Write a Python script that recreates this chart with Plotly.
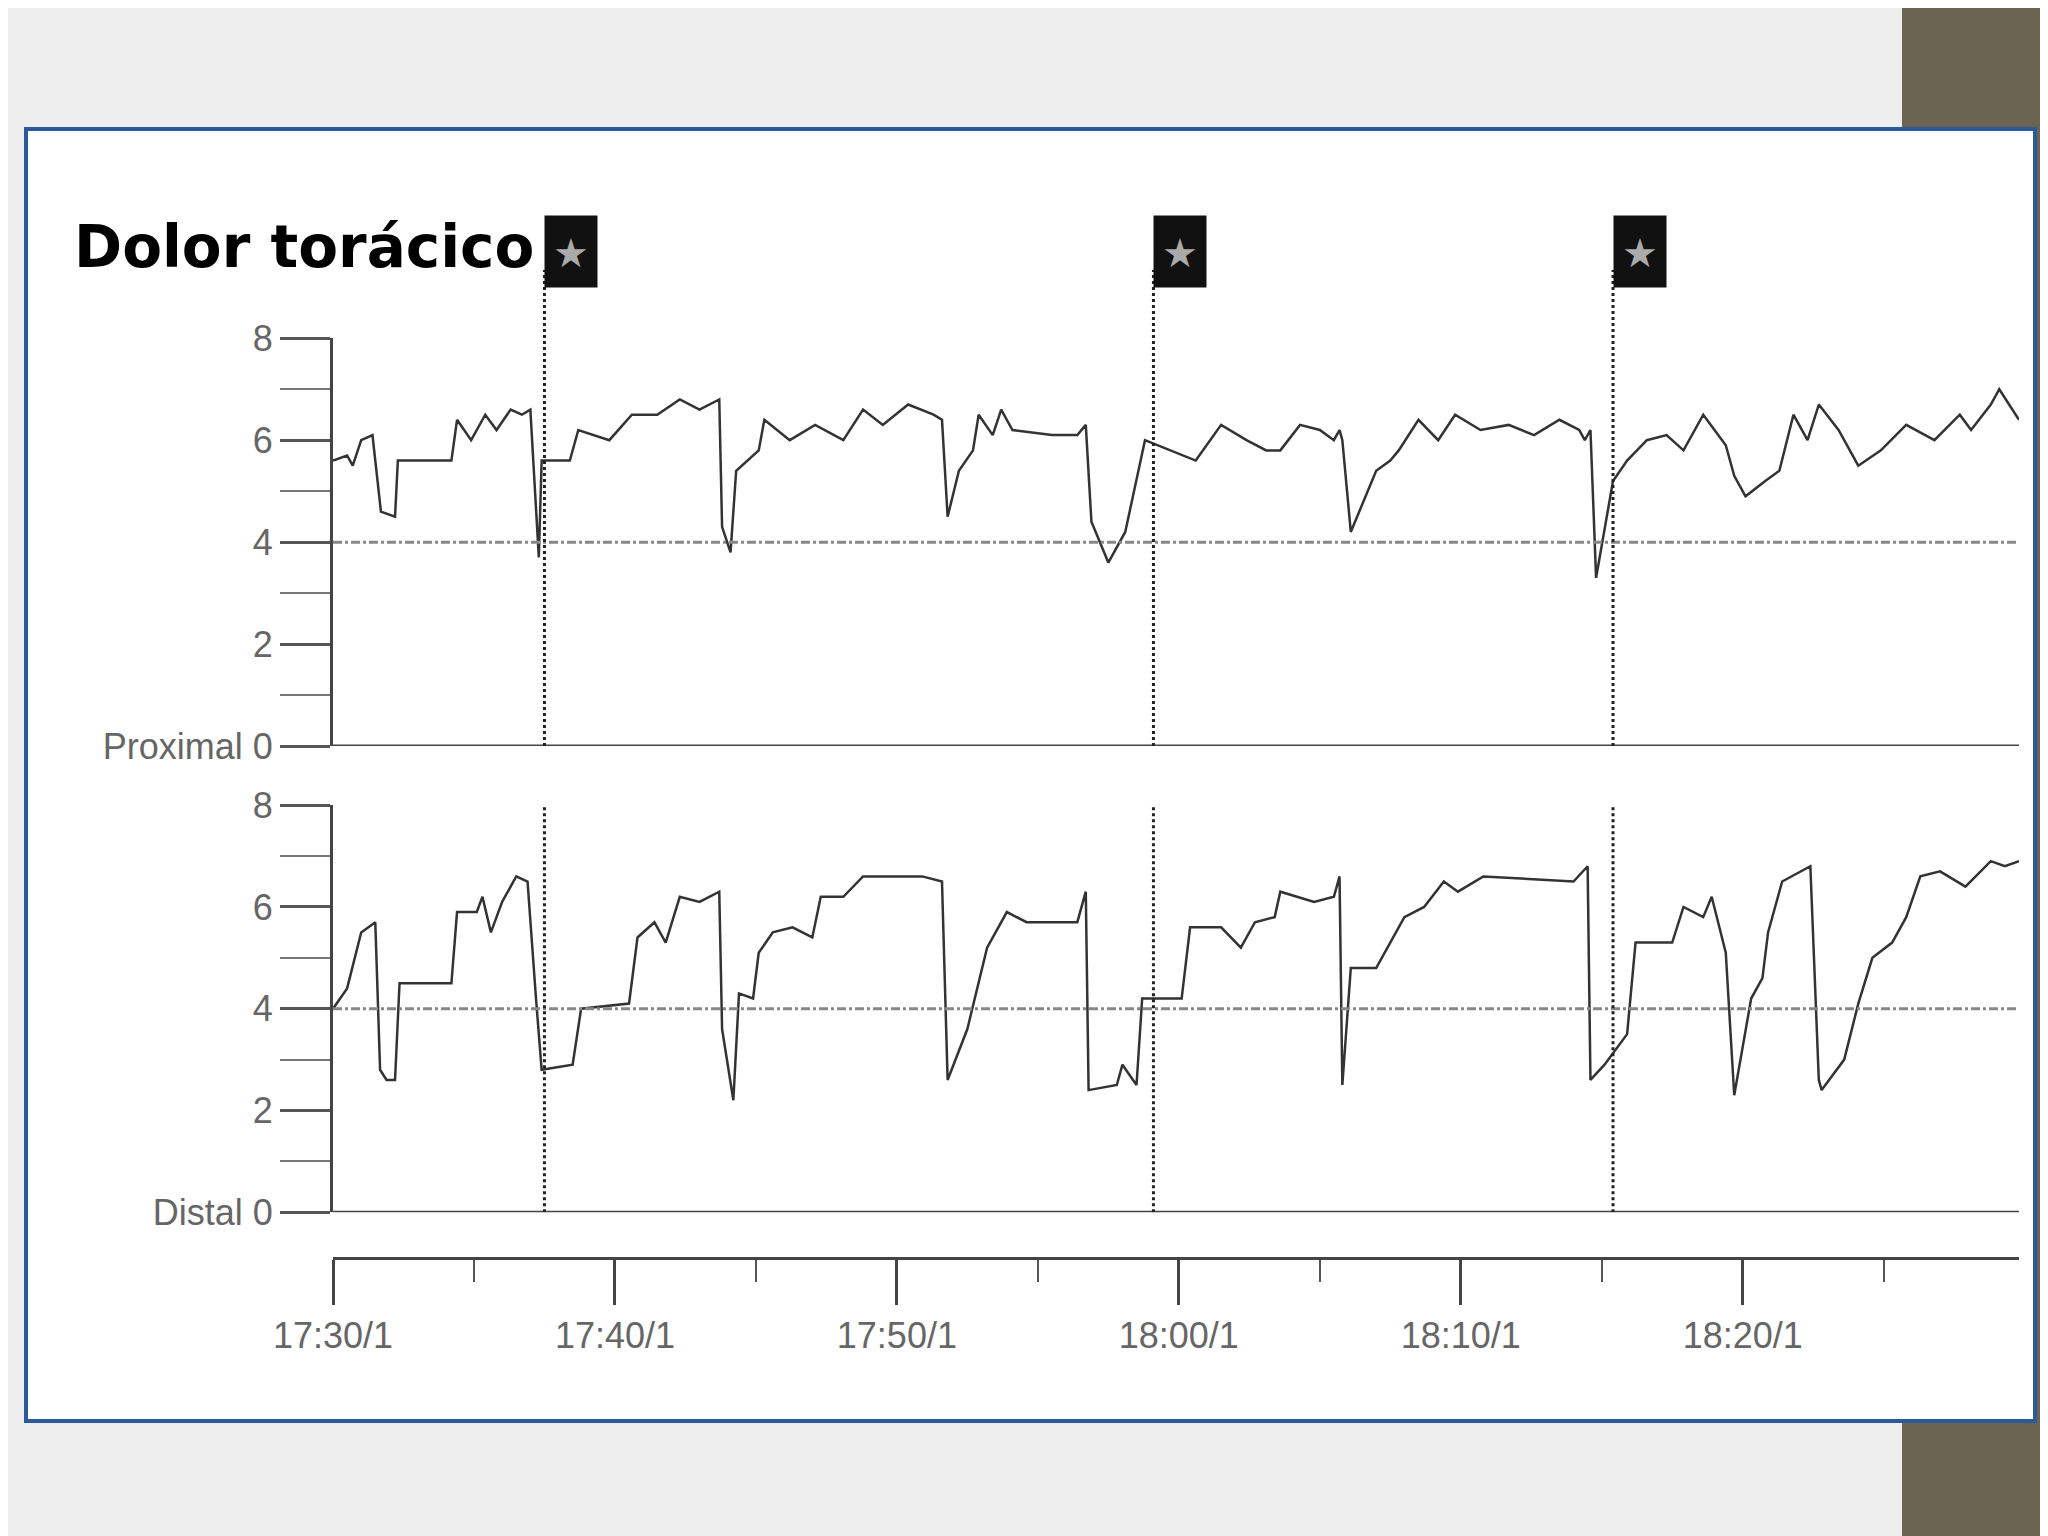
import plotly.graph_objects as go

# minutes after 17:30
prox_t = [0, 0.5, 0.7, 1.0, 1.4, 1.7, 2.2, 2.3, 4.2, 4.4, 4.9, 5.4, 5.8, 6.3, 6.7, 7.0, 7.3, 7.4,
          8.4, 8.7, 9.8, 10.6, 11.5, 12.3, 13.0, 13.7, 13.8, 14.1, 14.3, 15.1, 15.3, 16.2, 17.1,
          18.1, 18.8, 19.5, 20.4, 21.3, 21.6, 21.8, 22.2, 22.7, 22.9, 23.4, 23.7, 24.1, 25.5,
          26.4, 26.7, 26.9, 27.5, 27.9, 28.1, 28.8, 30.1, 30.6, 31.5, 32.4, 33.1, 33.6, 34.3,
          35.0, 35.5, 35.7, 35.8, 36.1, 37.0, 37.5, 37.8, 38.5, 39.2, 39.8, 40.7, 41.7, 42.6,
          43.5, 44.2, 44.4, 44.6, 44.8, 45.4, 45.9, 46.6, 47.3, 47.9, 48.6, 49.0, 49.4, 49.7,
          50.1, 50.8, 51.3, 51.8, 52.3, 52.7, 53.4, 54.1, 54.9, 55.8, 56.8, 57.7, 58.1, 58.8,
          59.1, 59.8]
prox_v = [5.6, 5.7, 5.5, 6.0, 6.1, 4.6, 4.5, 5.6, 5.6, 6.4, 6.0, 6.5, 6.2, 6.6, 6.5, 6.6, 3.7, 5.6,
          5.6, 6.2, 6.0, 6.5, 6.5, 6.8, 6.6, 6.8, 4.3, 3.8, 5.4, 5.8, 6.4, 6.0, 6.3,
          6.0, 6.6, 6.3, 6.7, 6.5, 6.4, 4.5, 5.4, 5.8, 6.5, 6.1, 6.6, 6.2, 6.1,
          6.1, 6.3, 4.4, 3.6, 4.0, 4.2, 6.0, 5.7, 5.6, 6.3, 6.0, 5.8, 5.8, 6.3,
          6.2, 6.0, 6.2, 6.0, 4.2, 5.4, 5.6, 5.8, 6.4, 6.0, 6.5, 6.2, 6.3, 6.1,
          6.4, 6.2, 6.0, 6.2, 3.3, 5.2, 5.6, 6.0, 6.1, 5.8, 6.5, 6.2, 5.9, 5.3,
          4.9, 5.2, 5.4, 6.5, 6.0, 6.7, 6.2, 5.5, 5.8, 6.3, 6.0, 6.5, 6.2, 6.7,
          7.0, 6.4]

dist_t = [0, 0.5, 1.0, 1.5, 1.67, 1.9, 2.2, 2.36, 4.2, 4.4, 5.1, 5.3, 5.6, 6.0, 6.5, 6.9, 7.2,
          7.4, 8.5, 8.8, 10.5, 10.8, 11.4, 11.8, 12.3, 13.0, 13.7, 13.8, 14.2, 14.4, 14.9, 15.1,
          15.6, 16.3, 17.0, 17.3, 18.1, 18.8, 20.9, 21.6, 21.8, 22.5, 23.2, 23.9, 24.6, 26.4,
          26.7, 26.8, 27.8, 28.0, 28.5, 28.7, 29.2, 30.1, 30.4, 31.5, 32.2, 32.7, 33.4, 33.6,
          34.8, 35.5, 35.7, 35.8, 36.1, 37.0, 37.5, 38.0, 38.7, 39.4, 39.9, 40.8, 44.0, 44.5,
          44.6, 45.1, 45.9, 46.2, 47.5, 47.9, 48.6, 48.9, 49.4, 49.7, 50.3, 50.7, 50.9, 51.4,
          52.4, 52.7, 52.8, 53.6, 54.1, 54.6, 55.3, 55.8, 56.3, 57.0, 57.9, 58.8, 59.3, 59.8]
dist_v = [4.0, 4.4, 5.5, 5.7, 2.8, 2.6, 2.6, 4.5, 4.5, 5.9, 5.9, 6.2, 5.5, 6.1, 6.6, 6.5, 4.2,
          2.8, 2.9, 4.0, 4.1, 5.4, 5.7, 5.3, 6.2, 6.1, 6.3, 3.6, 2.2, 4.3, 4.2, 5.1,
          5.5, 5.6, 5.4, 6.2, 6.2, 6.6, 6.6, 6.5, 2.6, 3.6, 5.2, 5.9, 5.7, 5.7,
          6.3, 2.4, 2.5, 2.9, 2.5, 4.2, 4.2, 4.2, 5.6, 5.6, 5.2, 5.7, 5.8, 6.3,
          6.1, 6.2, 6.6, 2.5, 4.8, 4.8, 5.3, 5.8, 6.0, 6.5, 6.3, 6.6, 6.5, 6.8,
          2.6, 2.9, 3.5, 5.3, 5.3, 6.0, 5.8, 6.2, 5.1, 2.3, 4.2, 4.6, 5.5, 6.5,
          6.8, 2.6, 2.4, 3.0, 4.1, 5.0, 5.3, 5.8, 6.6, 6.7, 6.4, 6.9, 6.8, 6.9]

events = [7.5, 29.1, 45.4]
time_ticks = [0, 10, 20, 30, 40, 50, 60]
time_labels = ["17:30/1", "17:40/1", "17:50/1", "18:00/1", "18:10/1", "18:20/1", "18:30/1"]
y_ticks = [0, 2, 4, 6, 8]

fig = go.Figure()
fig.add_trace(go.Scatter(x=prox_t, y=prox_v, mode="lines", line=dict(color="#333", width=2.5),
                         xaxis="x", yaxis="y"))
fig.add_trace(go.Scatter(x=dist_t, y=dist_v, mode="lines", line=dict(color="#333", width=2.5),
                         xaxis="x2", yaxis="y2"))
# empty trace so the time axis gets drawn
fig.add_trace(go.Scatter(x=[None], y=[None], xaxis="x3", yaxis="y3", hoverinfo="skip"))

xdom = [325 / 2048, 2011 / 2048]
xrng = [0, 59.8]
tickfont = dict(family="Liberation Sans", size=36, color="#666")
common_y = dict(range=[0, 8], showline=True, linecolor="#444", linewidth=3, ticks="outside",
                ticklen=50, tickwidth=3, tickcolor="#555", tickvals=y_ticks, showgrid=False,
                zeroline=False, tickfont=tickfont, automargin=False,
                minor=dict(dtick=1, ticks="outside", ticklen=50, tickcolor="#777", tickwidth=2))
fig.update_layout(
    width=2048, height=1536, margin=dict(l=0, r=0, t=0, b=0),
    paper_bgcolor="#eeeeee", plot_bgcolor="rgba(0,0,0,0)", showlegend=False,
    xaxis=dict(domain=xdom, range=xrng, anchor="y", visible=False),
    xaxis2=dict(domain=xdom, range=xrng, anchor="y2", visible=False),
    xaxis3=dict(domain=xdom, range=xrng, anchor="y3", showline=True, linecolor="#444", linewidth=3,
                ticks="outside", ticklen=45, tickwidth=3, tickcolor="#444", tickvals=time_ticks,
                ticktext=time_labels, tickfont=tickfont, showgrid=False, zeroline=False,
                automargin=False,
                minor=dict(dtick=5, ticks="outside", ticklen=22, tickcolor="#555", tickwidth=2)),
    yaxis=dict(domain=[0.5195, 0.785], ticktext=["Proximal 0", "2", "4", "6", "8"], **common_y),
    yaxis2=dict(domain=[0.216, 0.481], ticktext=["Distal 0", "2", "4", "6", "8"], **common_y),
    yaxis3=dict(domain=[0.187, 0.188], visible=False, range=[0, 1]),
)

shapes = [
    dict(type="rect", xref="paper", yref="paper", x0=1894 / 2048, x1=1, y0=0, y1=1,
         fillcolor="#6b6450", line_width=0, layer="below"),
    dict(type="rect", xref="paper", yref="paper", x0=18 / 2048, x1=2027 / 2048,
         y0=1 - 1413 / 1536, y1=1 - 121 / 1536, fillcolor="white",
         line=dict(color="#2a5a9a", width=4), layer="below"),
]
for ya, xa in (("y", "x"), ("y2", "x2")):
    shapes.append(dict(type="line", xref=xa, yref=ya, x0=-2.3, x1=59.8,
                       y0=0, y1=0, line=dict(color="#444", width=3)))
    shapes.append(dict(type="line", xref=xa, yref=ya, x0=0, x1=59.8, y0=4, y1=4,
                       line=dict(color="#888", width=3, dash="dashdot")))
for e in events:
    shapes.append(dict(type="line", xref="x", yref="paper", x0=e, x1=e, y0=0.5195,
                       y1=1 - 262 / 1536, line=dict(color="#222", width=3, dash="dot")))
    shapes.append(dict(type="line", xref="x2", yref="y2", x0=e, x1=e, y0=0, y1=8,
                       line=dict(color="#222", width=3, dash="dot")))
fig.update_layout(shapes=shapes)

annots = [dict(text="<b>Dolor torácico</b>", xref="paper", yref="paper", x=64 / 2048,
               y=1 - 239 / 1536, xanchor="left", yanchor="middle", showarrow=False,
               font=dict(family="DejaVu Sans", size=58, color="black"))]
for e in events:
    annots.append(dict(text="★", xref="x", yref="paper", x=e, y=1 - 243 / 1536, xanchor="left",
                       yanchor="middle", showarrow=False, bgcolor="#111",
                       font=dict(size=40, color="#aaa"), borderpad=8))
fig.update_layout(annotations=annots)

fig.write_html("out.html")
